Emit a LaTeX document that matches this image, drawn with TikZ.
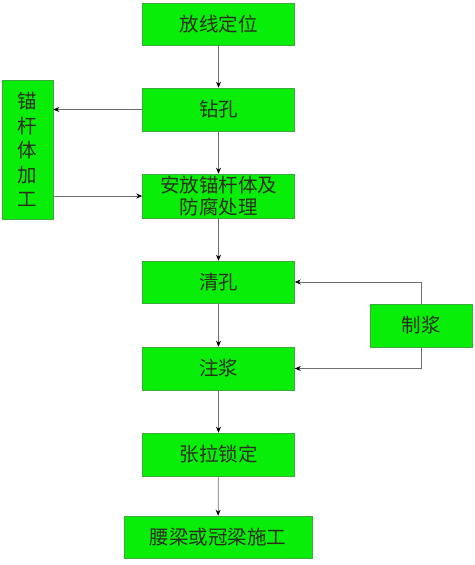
\documentclass[tikz,border=0pt]{standalone}
\usepackage{fontspec}
\setmainfont{Noto Sans CJK SC}
\usetikzlibrary{arrows.meta}
\definecolor{boxgreen}{RGB}{8,238,8}
\definecolor{boxborder}{RGB}{60,170,60}
\definecolor{txt}{RGB}{45,45,30}
\definecolor{lin}{RGB}{110,110,110}
\begin{document}
\begin{tikzpicture}[x=1pt,y=-1pt,
  stepbox/.style={draw=boxborder,line width=0.6pt,fill=boxgreen,text=txt,
    minimum width=152pt,minimum height=43pt,inner sep=0pt,font=\fontsize{19.5}{23}\selectfont},
  conn/.style={draw=lin,line width=0.7pt,-{Stealth[length=6pt,width=5pt,black]}}]
\useasboundingbox (0,0) rectangle (474,565);
\node[stepbox,minimum height=42pt] (a) at (218.5,24) {放线定位};
\node[stepbox] (b) at (218.5,109.5) {钻孔};
\node[stepbox,minimum width=51pt,minimum height=139pt,align=center,
  font=\fontsize{19.5}{24.5}\selectfont] (m) at (27.5,149.5) {锚\\杆\\体\\加\\工};
\node[stepbox,minimum height=44pt,align=center,font=\fontsize{19.5}{22.5}\selectfont] (c) at (218.5,196) {安放锚杆体及\\防腐处理};
\node[stepbox,minimum height=42pt] (d) at (218.5,282) {清孔};
\node[stepbox] (e) at (218.5,368.5) {注浆};
\node[stepbox,minimum width=102pt] (z) at (421,325.5) {制浆};
\node[stepbox] (f) at (218.5,454.5) {张拉锁定};
\node[stepbox,minimum width=188pt,minimum height=42pt] (g) at (218,537) {腰梁或冠梁施工};
\coordinate (cw) at (c.west |- 0,196);
\draw[conn] (a) -- (b);
\draw[conn] (b) -- (c);
\draw[conn] (c) -- (d);
\draw[conn] (d) -- (e);
\draw[conn] (e) -- (f);
\draw[conn] (f) -- (g);
\draw[conn] (b.west) -- (b.west -| m.east);
\draw[conn] (m.east |- cw) -- (cw);
\draw[conn] (z.north) |- (d.east);
\draw[conn] (z.south) |- (e.east);
\end{tikzpicture}
\end{document}
